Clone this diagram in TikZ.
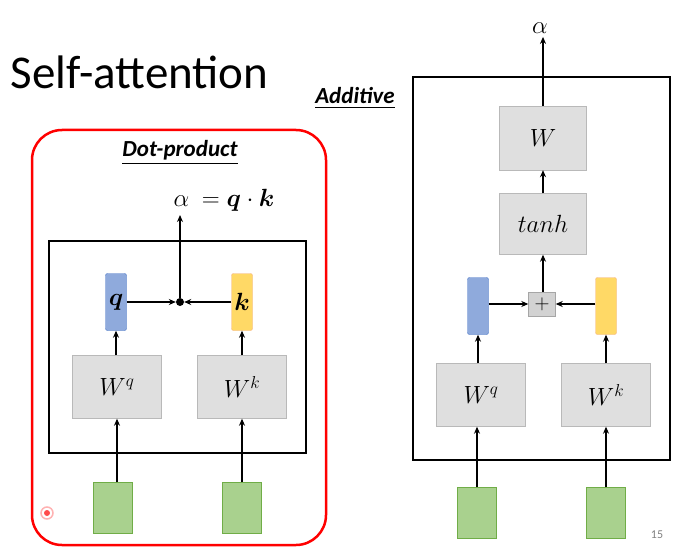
\documentclass[tikz,border=0pt]{standalone}
\usepackage{fontspec}
\setmainfont{Carlito}
\usepackage{amsmath,bm}
\usetikzlibrary{arrows.meta}
\definecolor{bfill}{HTML}{8FAADC}
\definecolor{bdraw}{HTML}{4472C4}
\definecolor{yfill}{HTML}{FFD966}
\definecolor{ydraw}{HTML}{F4B183}
\definecolor{gfill}{HTML}{A9D18E}
\definecolor{gdraw}{HTML}{70AD47}
\begin{document}
\begin{tikzpicture}[x=1pt,y=-1pt,
  ar/.style={-{Stealth[length=7pt,width=6pt]},line width=1.2pt},
  gbox/.style={draw=gray!55,fill=gray!25,minimum width=89pt,minimum height=63pt,font=\fontsize{25}{27}\selectfont},
  bbox/.style={draw=bdraw,fill=bfill,rounded corners=2pt,minimum width=21pt,minimum height=57pt,inner sep=0pt},
  ybox/.style={draw=ydraw,fill=yfill,rounded corners=2pt,minimum width=21pt,minimum height=57pt,inner sep=0pt},
  grbox/.style={draw=gdraw,fill=gfill,minimum width=39pt,minimum height=51pt},
  frame/.style={draw,line width=2.5pt},
  lab/.style={font=\fontsize{23}{26}\selectfont\bfseries\itshape}]
\useasboundingbox (0,0) rectangle (692,556);
\node[anchor=west,font=\fontsize{47}{52}\selectfont] (title) at (7,72) {Self-a{}ttention};
% left
\draw[red,line width=2.5pt,rounded corners=30pt] (32,130) rectangle (326,545);
\node[lab] (dp) at (180,153) {\underline{Dot-product}};
\draw[frame] (49,241) rectangle (306,453);
\node[font=\fontsize{25}{27}\selectfont] (alpha1) at (224,200) {$\alpha\ = \bm{q}\cdot\bm{k}$};
\coordinate (atop) at (180,215);
\node[bbox] (q) at (116,302) {};
\node[font=\fontsize{25}{27}\selectfont] at (q) {$\bm{q}$};
\node[ybox] (k) at (242,302) {};
\node[font=\fontsize{25}{27}\selectfont] at (k) {$\bm{k}$};
\node[circle,fill,inner sep=0pt,minimum size=8pt] (dot) at (180,302) {};
\draw[ar] (q) -- (dot);
\draw[ar] (k) -- (dot);
\draw[ar] (dot) -- (atop);
\node[gbox] (wq1) at (117,387) {$W^q$};
\node[gbox] (wk1) at (242,387) {$W^k$};
\draw[ar] (q.south |- wq1.north) -- (q);
\draw[ar] (wk1) -- (k);
\node[grbox] (g1) at (113,508) {};
\node[grbox] (g2) at (242,508) {};
\draw[ar] (g1.north -| wq1) -- (wq1);
\draw[ar] (g2) -- (wk1);
\fill[red!70] (47,513) circle (3pt);
\draw[red!30,line width=1.5pt] (47,513) circle (6pt);
% right
\node[lab] (add) at (355,98) {\underline{Additive}};
\draw[frame] (413,77) rectangle (670,460);
\node[font=\fontsize{25}{27}\selectfont] (alpha2) at (540,28) {$\alpha$};
\node[gbox,minimum width=87pt,minimum height=64pt] (w) at (543,138) {$W$};
\node[gbox,minimum width=87pt,minimum height=61pt] (tanh) at (543,224) {$tanh$};
\node[draw=gray!70,fill=gray!35,minimum width=27pt,minimum height=24pt,inner sep=0pt,font=\fontsize{22}{24}\selectfont] (plus) at (542,304) {$+$};
\node[bbox] (b2) at (478,306) {};
\node[ybox] (y2) at (606,306) {};
\draw[ar] (b2.east |- plus) -- (plus);
\draw[ar] (y2.west |- plus) -- (plus);
\draw[ar] (plus.north -| tanh) -- (tanh);
\draw[ar] (tanh) -- (w);
\draw[ar] (w) -- (w.north |- alpha2.south);
\node[gbox] (wq2) at (481,395) {$W^q$};
\node[gbox] (wk2) at (606,395) {$W^k$};
\draw[ar] (wq2.north -| b2) -- (b2);
\draw[ar] (wk2) -- (y2);
\node[grbox] (g3) at (477,513) {};
\node[grbox] (g4) at (606,513) {};
\draw[ar] (g3) -- (g3 |- wq2.south);
\draw[ar] (g4) -- (wk2);
\node[gray,font=\fontsize{12}{14}\selectfont] (pg) at (657,535) {15};
\end{tikzpicture}
\end{document}
